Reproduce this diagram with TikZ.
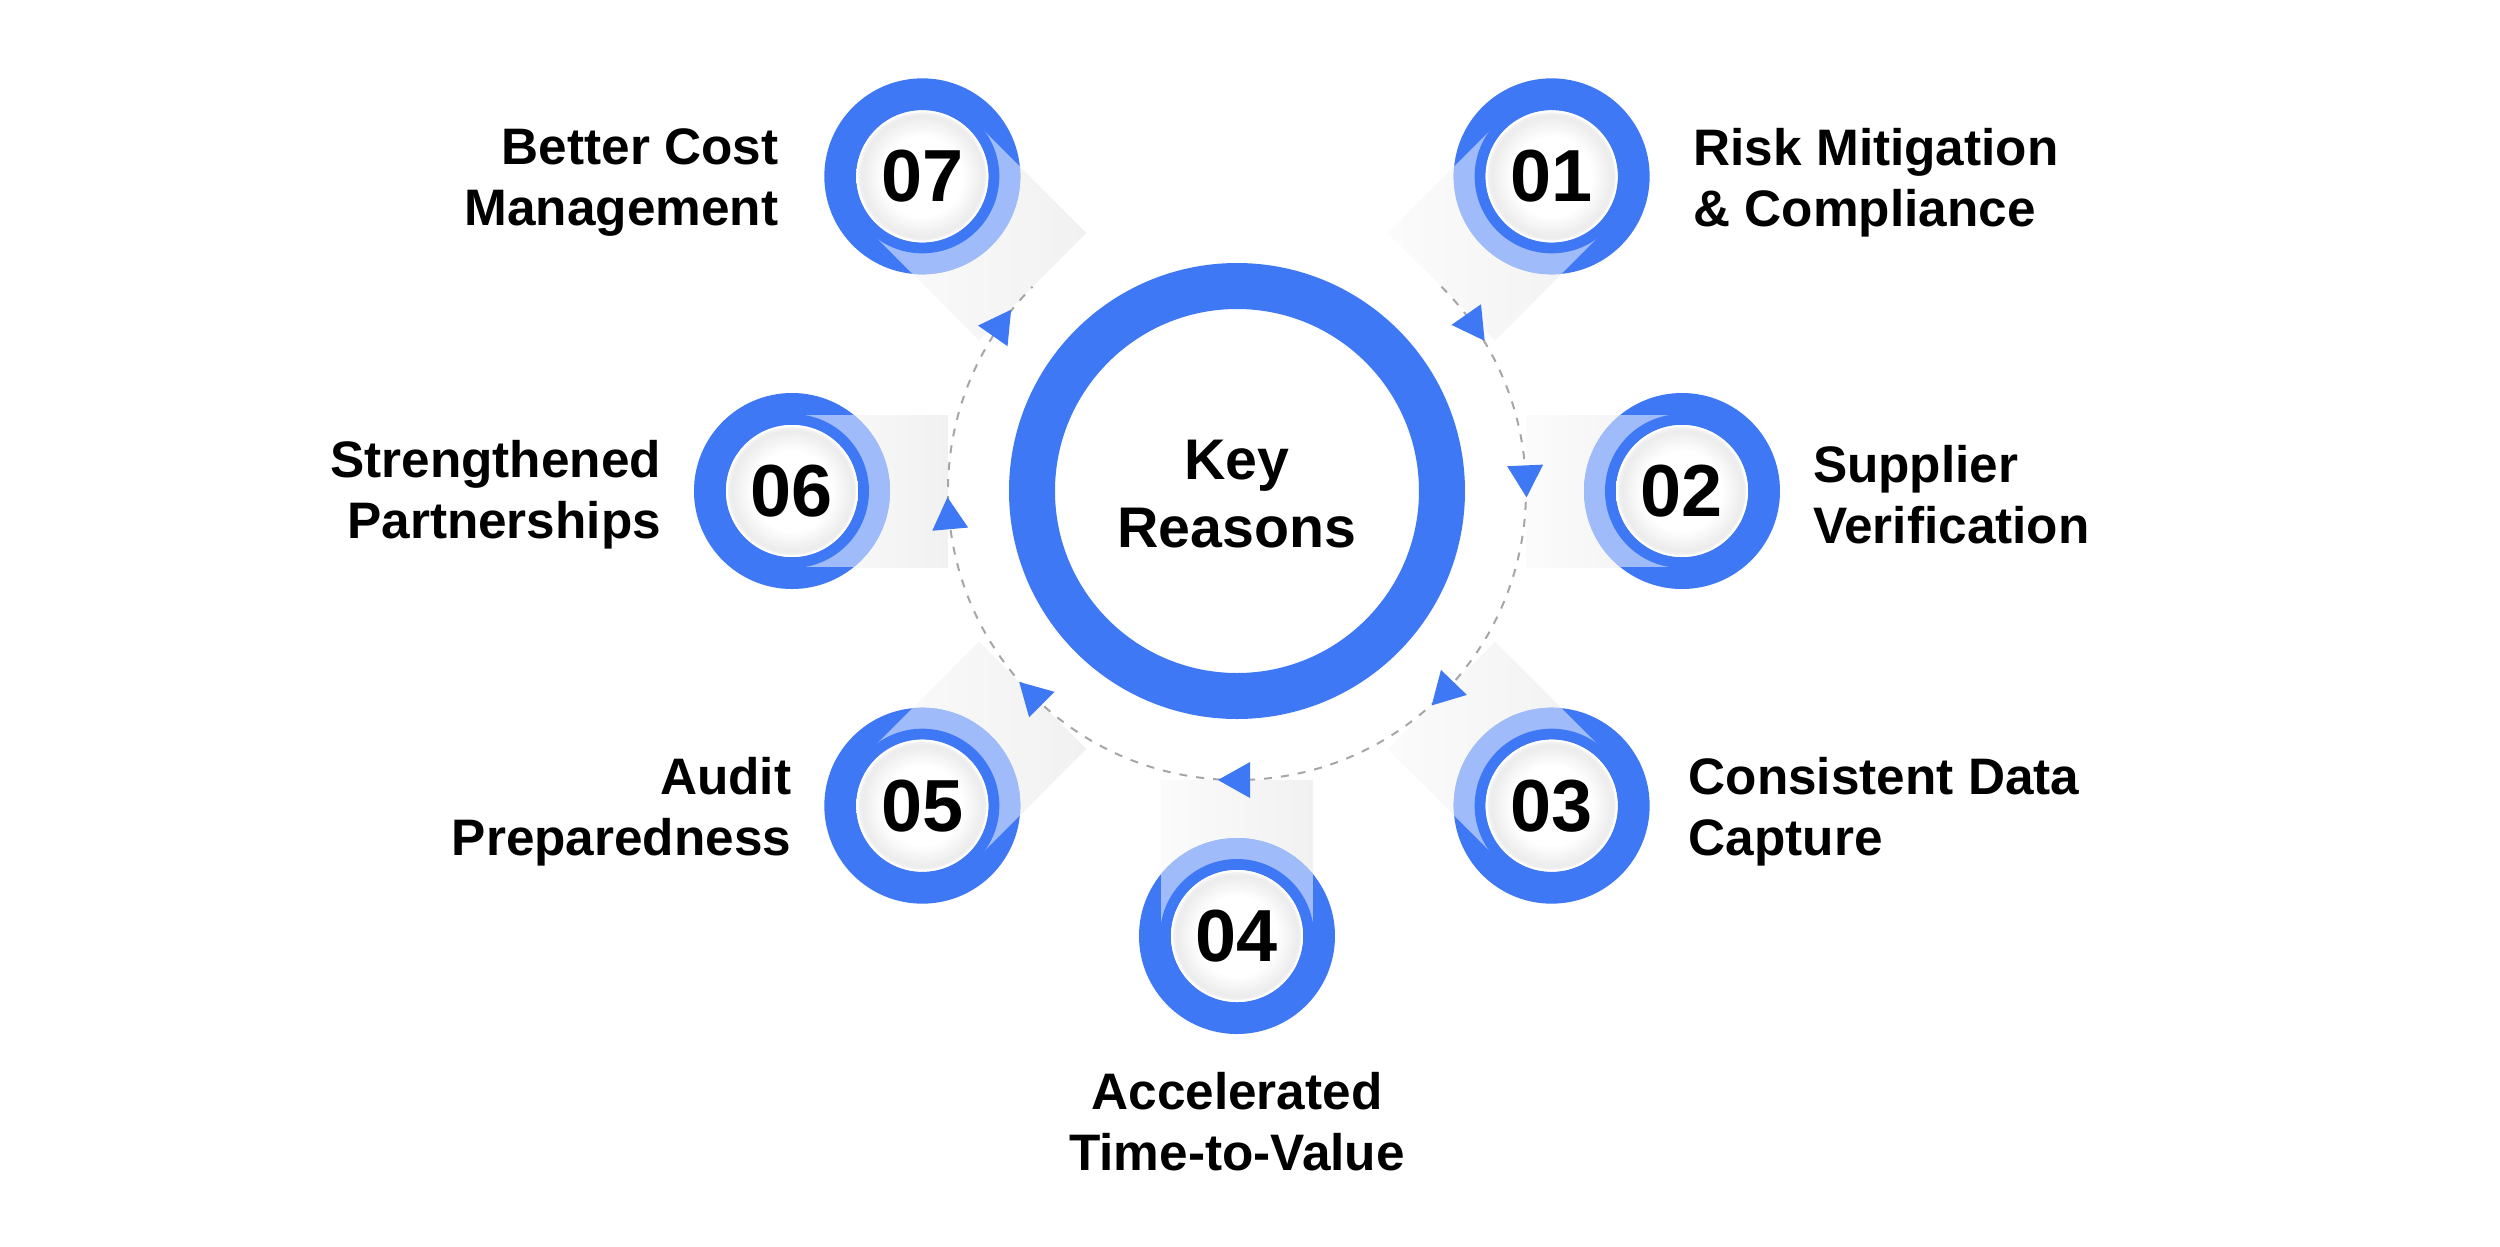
\documentclass[tikz,border=0pt]{standalone}
\usepackage{fontspec}
\setmainfont{Liberation Sans}
\usetikzlibrary{positioning}
\definecolor{kblue}{RGB}{63,120,245}
\pgfdeclareradialshading{disc}{\pgfpoint{0bp}{0bp}}{color(0bp)=(white); color(15bp)=(white); color(23bp)=(gray!15); color(25bp)=(gray!6); color(50bp)=(gray!6)}
\tikzset{
  badge/.style={circle, fill=kblue, minimum size=1.96cm, inner sep=0pt, outer sep=0pt},
  num/.style={font=\fontsize{21}{24}\selectfont\bfseries},
  lbl/.style={font=\fontsize{14.6}{17.4}\selectfont\bfseries, inner sep=0pt, outer sep=0pt},
  band/.style={left color=gray!3, right color=gray!11},
}
\begin{document}
\begin{tikzpicture}
\useasboundingbox (-12.37,-7.55) rectangle (12.63,4.91);
% light bands behind the badges
\foreach \a in {45,0,-45,-90,-135,180,135}
  \shade[band, rotate=\a] (2.89,-0.76) rectangle (4.45,0.76);
% dashed track
\draw[gray!70, line width=0.02cm, dash pattern=on 0.08cm off 0.09cm] (45:2.89) arc[start angle=45, end angle=-225, radius=2.89];
% centre ring
\draw[kblue, line width=0.46cm] (0,0) circle (2.05);
\node[lbl, font=\fontsize{16.3}{19.4}\selectfont\bfseries, align=center, yshift=-0.03cm] (key) at (0,0) {Key\\Reasons};
% badges
\foreach \n/\a in {1/45,2/0,3/-45,4/-90,5/-135,6/180,7/135}{
  \node[badge] (b\n) at (\a:4.45) {};
  \begin{scope}
    \clip (b\n) circle (0.98);
    \fill[white, opacity=0.5, rotate=\a] (2.89,-0.76) rectangle (4.45,0.76);
  \end{scope}
  \fill[kblue] (b\n) circle (0.77);
  \shade[shading=disc] (b\n) circle (0.66);
  \draw[white, line width=0.02cm] (b\n) circle (0.65);
  \node[num] at (b\n) {0\n};
}
% arrow tips on the track
\foreach \p in {35,2.5,-44,-90,-135,185,145}
  \fill[kblue, rotate=\p] (2.71,0.13) -- (3.07,0.13) -- (2.89,-0.19) -- cycle;
% labels
\node[lbl, align=left, right=0.44cm of b1, yshift=-0.06cm] (t1) {Risk Mitigation\\\& Compliance};
\node[lbl, align=left, right=0.33cm of b2, yshift=-0.04cm] (t2) {Supplier\\Verification};
\node[lbl, align=left, right=0.39cm of b3, yshift=-0.06cm] (t3) {Consistent Data\\Capture};
\node[lbl, align=center, below=0.38cm of b4] (t4) {Accelerated\\Time-to-Value};
\node[lbl, align=right, left=0.33cm of b5, yshift=-0.06cm] (t5) {Audit\\Preparedness};
\node[lbl, align=right, left=0.33cm of b6, yshift=-0.04cm] (t6) {Strengthened\\Partnerships};
\node[lbl, align=right, left=0.46cm of b7, yshift=-0.06cm] (t7) {Better Cost\\Management};
\end{tikzpicture}
\end{document}
